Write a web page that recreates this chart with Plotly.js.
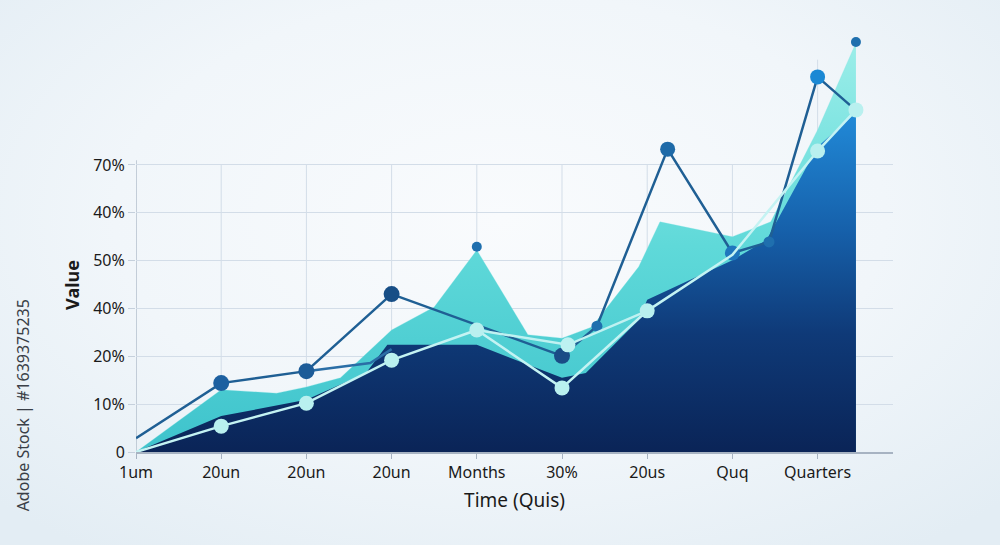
<!DOCTYPE html>
<html>
<head>
<meta charset="utf-8">
<script src="https://cdn.plot.ly/plotly-3.0.1.min.js"></script>
<style>
  html, body { margin:0; padding:0; width:1000px; height:545px; overflow:hidden;
    background: radial-gradient(ellipse 70% 75% at 50% 40%, #f9fbfd 0%, #f1f6fa 55%, #e3edf4 100%); }
  #chart { width:1000px; height:545px; }
</style>
</head>
<body>
<div id="chart"></div>
<script>
// ---- data (y in grid units: one gridline = 10) ----
const xTicks  = [0, 1, 2, 3, 4, 5, 6, 7, 8];
const xLabels = ['1um', '20un', '20un', '20un', 'Months', '30%', '20us', 'Quq', 'Quarters'];
const yTicks  = [0, 10, 20, 30, 40, 50, 60];
const yLabels = ['0', '10%', '20%', '40%', '50%', '40%', '70%'];

const darkAreaX = [0, 1, 2, 2.7, 2.95, 4, 5, 5.28, 5.9, 6, 7, 7.4, 8, 8.45];
const darkAreaY = [0, 7.5, 10.9, 16.5, 22.4, 22.4, 15.5, 16.5, 27.6, 31.8, 40.1, 44.3, 63.8, 70.9];

const cyanAreaX = [0, 1, 1.65, 2, 2.4, 3, 3.5, 4, 4.6, 5, 5.35, 5.9, 6.15, 7, 7.45, 8, 8.45];
const cyanAreaY = [0, 13.0, 12.3, 13.6, 15.5, 25.5, 30.3, 42.2, 24.5, 23.8, 26.1, 38.7, 48.1, 45.0, 48.1, 67.3, 85.5];

const darkLineX = [0, 1, 2, 3, 5, 5.41, 6.24, 7, 7.43, 8, 8.38];
const darkLineY = [2.9, 14.4, 16.9, 33.0, 20.1, 26.3, 63.3, 41.6, 43.9, 78.4, 72.5];

const branchX = [2, 2.75, 3.0];
const branchY = [16.9, 18.6, 21.5];

const lightLineX = [0, 1, 2, 3, 4, 5, 6, 7, 8, 8.45];
const lightLineY = [0, 5.4, 10.2, 19.2, 25.5, 13.4, 29.5, 41.2, 62.9, 71.5];

const lightBranchX = [4, 5.07, 6];
const lightBranchY = [25.5, 22.4, 29.5];

const peakX = [4, 8.45];
const peakY = [42.9, 85.7];

// ---- traces ----
const traces = [
  { x: cyanAreaX, y: cyanAreaY, type: 'scatter', mode: 'lines', fill: 'tozeroy',
    line: { width: 0.5, color: 'rgba(120,225,225,0.6)' },
    fillcolor: 'rgba(90,215,215,0.85)',
    fillgradient: { type: 'vertical', start: 0, stop: 86,
      colorscale: [[0, '#3ec3cc'], [0.5, '#5fd9d9'], [1, '#9ceee9']] },
    hoverinfo: 'skip', showlegend: false },
  { x: darkAreaX, y: darkAreaY, type: 'scatter', mode: 'lines', fill: 'tozeroy',
    line: { width: 0, color: '#1a5fa8' },
    fillcolor: '#154a8e',
    fillgradient: { type: 'vertical', start: 0, stop: 71,
      colorscale: [[0, '#0a2457'], [0.35, '#0f3a78'], [0.65, '#1660aa'], [1, '#218ad8']] },
    hoverinfo: 'skip', showlegend: false },
  { x: branchX, y: branchY, type: 'scatter', mode: 'lines',
    line: { width: 2.5, color: '#2a6ea6' }, hoverinfo: 'skip', showlegend: false },
  { x: darkLineX, y: darkLineY, type: 'scatter', mode: 'lines+markers', cliponaxis: false,
    line: { width: 2.5, color: '#1f5f94' },
    marker: { opacity: 1, line: { width: 0 },
      size: [0, 16, 16, 16, 16, 11, 15, 15, 11, 15, 0],
      color: ['#1f5f99', '#1d60a0', '#1d5c98', '#174e86', '#1a4c86', '#1f6fae', '#1e6aa8', '#1f76bd', '#1f6fae', '#1a88d4', '#1f5f94'] },
    hoverinfo: 'skip', showlegend: false },
  { x: lightBranchX, y: lightBranchY, type: 'scatter', mode: 'lines+markers', cliponaxis: false,
    line: { width: 2.5, color: '#bff1f1' },
    marker: { opacity: 1, line: { width: 0 }, size: [0, 15, 0], color: '#bdf1f1' },
    hoverinfo: 'skip', showlegend: false },
  { x: lightLineX, y: lightLineY, type: 'scatter', mode: 'lines+markers', cliponaxis: false,
    line: { width: 2.5, color: '#c4f3f3' },
    marker: { opacity: 1, line: { width: 0 }, size: [0, 15, 15, 15, 15, 15, 15, 0, 15, 15], color: '#b9f0ef' },
    hoverinfo: 'skip', showlegend: false },
  { x: peakX, y: peakY, type: 'scatter', mode: 'markers', cliponaxis: false,
    marker: { size: 10, color: '#1f6fae', opacity: 1 }, hoverinfo: 'skip', showlegend: false }
];

const gridColor = '#d3dde8';
const shapes = xTicks.slice(1).map(v => ({
  type: 'line', xref: 'x', yref: 'y', x0: v, x1: v, y0: 0, y1: (v === 8 ? 82 : 60),
  line: { color: gridColor, width: 1 }, layer: 'below'
}));
shapes.push({ type: 'line', xref: 'x', yref: 'y', x0: 0, x1: 0, y0: 0, y1: 61,
  line: { color: '#b3bfcc', width: 1.5 }, layer: 'below' });

const font = 'Noto Sans, Open Sans, sans-serif';

const layout = {
  width: 1000, height: 545,
  margin: { l: 136, r: 107, t: 30, b: 93 },
  paper_bgcolor: 'rgba(0,0,0,0)',
  plot_bgcolor: 'rgba(0,0,0,0)',
  font: { family: font, color: '#1a1a1a', size: 16 },
  xaxis: {
    range: [0, 8.885], tickmode: 'array', tickvals: xTicks, ticktext: xLabels,
    showgrid: false, zeroline: false, showline: true, linecolor: '#a7b3c2', linewidth: 1.5,
    ticks: 'outside', ticklen: 5, tickcolor: '#a7b3c2',
    tickfont: { family: font, size: 16, color: '#1a1a1a' },
    title: { text: 'Time (Quis)', font: { family: font, size: 19, color: '#1a1a1a' }, standoff: 12 }
  },
  yaxis: {
    range: [0, 88.2], tickmode: 'array', tickvals: yTicks, ticktext: yLabels,
    showgrid: true, gridcolor: gridColor, gridwidth: 1, zeroline: false, showline: false,
    ticks: 'outside', ticklen: 7, tickcolor: '#c5d0dc',
    tickfont: { family: font, size: 16, color: '#1a1a1a' }
  },
  shapes: shapes,
  annotations: [
    { text: '<b>Value</b>', xref: 'paper', yref: 'paper', x: -0.0845, y: 0.396,
      textangle: -90, showarrow: false, font: { family: font, size: 18, color: '#1a1a1a' },
      xanchor: 'center', yanchor: 'middle' },
    { text: 'Adobe Stock | #1639375235', xref: 'paper', yref: 'paper', x: -0.149, y: 0.111,
      textangle: -90, showarrow: false, font: { family: font, size: 16, color: '#3a3f47' },
      xanchor: 'center', yanchor: 'middle' }
  ]
};

Plotly.newPlot('chart', traces, layout, { displayModeBar: false, staticPlot: true });
</script>
</body>
</html>
